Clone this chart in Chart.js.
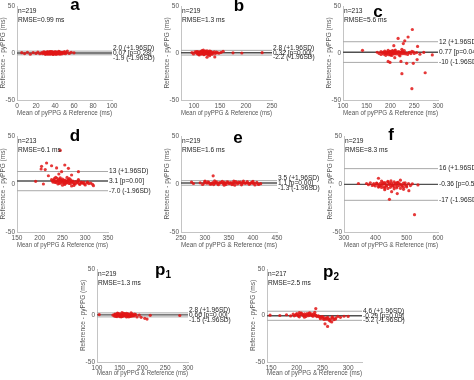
<!DOCTYPE html>
<html>
<head>
<meta charset="utf-8">
<script src="https://cdn.jsdelivr.net/npm/chart.js@4"></script>
<style>
html, body { margin: 0; padding: 0; background: #fff; }
body { position: relative; width: 474px; height: 380px; overflow: hidden; }
canvas { position: absolute; }
</style>
</head>
<body>
<script>
// Bland-Altman panels: Reference - pyPPG vs mean of both
const panelIds = ['a', 'b', 'c', 'd', 'e', 'f', 'p1', 'p2'];
const nVals = [219, 219, 213, 213, 219, 219, 219, 217];
const rmseVals = ['0.99', '1.3', '5.6', '6.1', '1.6', '8.3', '1.3', '2.5'];
const upperLoA = ['2.0', '2.8', '12', '13', '3.5', '16', '2.8', '4.6'];
const meanBias = ['0.07', '0.32', '0.77', '3.1', '1.1', '-0.36', '0.66', '-0.29'];
const pVals = ['0.28', '0.00', '0.04', '0.00', '0.00', '0.52', '0.00', '0.09'];
const lowerLoA = ['-1.9', '-2.2', '-10', '-7.0', '-1.3', '-17', '-1.5', '-5.2'];
const xRanges = [[0, 100], [75, 250], [100, 300], [150, 350], [250, 450], [300, 600], [100, 300], [142, 327]];
const xTicks = [
  [0, 20, 40, 60, 80, 100],
  [100, 150, 200, 250],
  [100, 150, 200, 250, 300],
  [150, 200, 250, 300, 350],
  [250, 300, 350, 400, 450],
  [300, 400, 500, 600],
  [100, 150, 200, 250, 300],
  [150, 200, 250, 300]
];
const yTicks = [-50, 0, 50];

// points (mean, difference)
const aX = [5, 8, 11, 14, 17, 20, 22, 24, 26, 27, 28, 29, 30, 30, 31, 32, 32, 33, 34, 34, 35, 35, 36, 36, 37, 37, 38, 38, 39, 39, 40, 40, 41, 41, 42, 42, 43, 43, 44, 45, 45, 46, 47, 48, 49, 50, 51, 52, 53, 55, 57, 60,
  29, 31, 33, 35, 37, 39, 41, 43, 45, 47, 33, 36, 39, 42, 38, 40, 44, 34, 46, 50];
const aY = [0.3, -0.6, 0.8, -1.2, 0.5, -0.4, 1.0, -0.8, 0.5, -0.8, 1.2, -0.3, 0.8, -1.5, 0.2, 1.4, -0.9, 0.4, -0.2, 1.1, -1.3, 0.6, 0.1, -0.7, 1.6, -0.4, 0.3, -1.1, 0.9, -0.2, 1.3, -0.6, 0.2, -1.4, 0.7, -0.3, 1.0, -0.9, 0.4, -0.5, 1.2, 0.1, -1.0, 0.6, -0.3, 1.5, -0.7, 0.3, 2.0, -0.4, 0.8, 0.2,
  0.9, -0.4, -1.2, 1.4, 0.2, -0.8, 1.1, 0.1, -1.3, 0.7, 0.6, 1.3, -0.6, -0.9, -1.6, 0.5, 1.7, -0.3, -0.2, 0.4];

const bX = [96, 99, 102, 104, 106, 107, 108, 109, 110, 111, 112, 113, 114, 115, 116, 117, 118, 119, 120, 121, 122, 123, 124, 125, 126, 127, 128, 129, 130, 132, 133, 135, 137, 139, 141, 143, 145, 148, 152, 156, 175, 192, 231, 125, 140, 118, 130,
  105, 108, 111, 114, 117, 120, 123, 126, 129, 132, 110, 115, 120, 125, 130, 113, 119, 122, 128, 135];
const bY = [0.5, -1.0, 1.2, 0.3, -0.8, 1.6, 0.2, -1.5, 0.9, -0.4, 1.3, 0.6, -1.1, 2.0, 0.1, -0.6, 1.0, -1.8, 0.4, 1.5, -0.3, 0.8, -0.9, 2.4, 0.2, -1.3, 1.1, 0.5, -0.5, 1.7, -1.0, 0.7, 0.2, 1.3, -0.4, 0.9, 0.3, -0.2, 0.6, 1.8, 0.2, 0.0, 0.3, -4.5, -4.2, 3.0, -2.8,
  1.5, -0.3, 0.5, -0.2, 1.8, -1.2, 0.3, 1.0, -0.7, 0.4, -2.0, 2.3, 1.2, -0.5, 2.1, 0.0, -0.9, 1.9, -1.8, -1.2];

const cX = [246, 216, 237, 230, 227, 207, 224, 257, 141, 288, 199, 222, 234, 248, 256, 224, 273, 245, 195, 209,
  172, 176, 180, 183, 186, 188, 190, 192, 194, 195, 197, 198, 200, 201, 203, 204, 206, 207, 209, 210, 212, 214, 216, 218, 220, 223, 226, 229, 232, 236, 240, 245, 250, 255, 262, 270, 190, 200, 210, 220,
  185, 189, 193, 196, 199, 202, 205, 208, 211, 215, 219, 222, 225, 228, 231, 238, 243, 248, 180, 203];
const cY = [25, 15.5, 17, 13, 10, 7.8, 4, 7, 2.8, -2, -10, -9, -11, -11, -7, -22, -21, -38, -9, -5,
  0.8, -0.5, 1.5, 0.2, -1.2, 2.0, 0.5, -0.8, 1.2, 2.8, -0.3, 0.9, 1.8, -1.5, 0.4, 2.5, -0.6, 1.1, 0.0, 2.2, -1.0, 0.7, 1.5, -2.0, 0.3, 1.0, -0.8, 2.6, 0.2, -1.5, 0.8, 1.8, -0.5, 0.4, -1.2, 0.6, -2.5, -2.2, 3.2, -3.0,
  1.0, -0.2, 0.6, -1.8, 1.4, 0.2, 1.9, -0.9, 0.8, -0.3, 1.3, -0.4, 2.0, 0.5, -0.9, 0.2, -0.6, 1.2, -1.6, -2.6];

const dX = [215, 204, 203, 212, 226, 237, 255, 263, 248, 285, 219, 242, 270, 191, 208, 318, 233, 245,
  226, 229, 232, 234, 236, 238, 240, 242, 244, 246, 248, 250, 252, 254, 256, 258, 260, 262, 264, 266, 268, 270, 273, 276, 279, 282, 285, 288, 291, 294, 297, 300, 304, 308, 312, 316, 235, 245, 255, 265, 275, 285, 240, 250, 260, 270,
  228, 231, 237, 241, 243, 247, 251, 253, 257, 261, 263, 267, 271, 274, 278, 283, 287, 292, 298, 305];
const dY = [21.9, 18.4, 15.6, 15, 19, 16.7, 19.8, 16.3, 12.8, 12.8, 8.6, 10.4, 9.4, 2.8, 0, -1.7, 1.7, 35,
  4.5, 2.0, 5.5, 3.0, 1.5, 6.0, 3.5, 2.2, 4.8, 1.0, 3.8, 5.2, 2.5, 0.8, 4.0, 2.8, 1.5, 3.6, 0.5, 2.4, 4.2, 1.8, 3.0, 0.2, 2.6, 1.2, 3.4, -0.5, 2.0, 0.8, 1.6, -1.0, 1.2, 0.4, 1.0, -0.3, 7.0, 6.5, -0.5, 5.5, -1.5, 4.6, 0.0, -1.2, 6.8, -2.0,
  3.2, 4.0, 2.6, 4.4, 0.6, 2.8, 1.6, 3.8, 0.8, 2.0, 4.6, 0.6, 2.8, 1.4, 0.0, 2.2, 0.4, 1.4, 0.0, 2.0];

const eX = [272, 276, 290, 295, 300, 304, 308, 312, 316, 317, 320, 324, 328, 332, 336, 338, 340, 344, 348, 352, 356, 360, 364, 368, 372, 376, 380, 384, 388, 392, 396, 400, 404, 408, 412, 416, 300, 320, 340, 360, 380, 400, 310, 330, 350, 370, 390,
  298, 306, 314, 322, 326, 334, 342, 346, 354, 358, 366, 374, 378, 386, 394, 398, 402, 410, 318, 362];
const eY = [2.0, 0.5, 1.2, -0.5, 2.5, 0.8, 1.8, -0.2, 1.4, 8.5, 0.6, 2.2, -0.8, 1.0, 2.8, 0.3, 1.6, -0.4, 2.0, 0.9, -0.6, 1.5, 2.6, 0.2, 1.1, -0.9, 1.8, 0.5, 2.4, -0.3, 1.2, 0.7, -1.0, 1.6, -0.5, 0.3, 3.0, 3.2, -1.2, 2.9, 3.0, 2.7, 0.0, 1.4, 0.4, 2.0, 1.0,
  1.0, 2.2, 0.4, 1.6, 0.2, 1.8, 0.6, 2.3, 1.4, 0.1, 1.2, 2.0, 0.6, 1.3, 0.4, 1.9, 0.8, 0.0, -0.6, -1.2];

const fX = [346, 410, 445, 525, 507, 490, 452, 470, 430, 480, 536,
  372, 378, 384, 390, 395, 400, 404, 408, 412, 416, 420, 424, 428, 432, 436, 440, 444, 448, 452, 456, 460, 464, 468, 472, 476, 480, 485, 490, 495, 500, 506, 512, 518, 420, 440, 460, 480, 430, 450, 470,
  395, 405, 415, 425, 435, 445, 455, 465, 475, 485, 495, 410, 430, 450, 470, 490, 460, 440, 420, 500];
const fY = [0.5, 6, -16, -32, -7, -5.5, -8, -10, -6, 4, -1,
  0.5, -0.8, 1.2, -1.5, 0.3, -2.0, 1.0, -0.5, -2.5, 0.8, -1.2, 1.5, -3.0, 0.2, -1.8, 2.0, -0.6, -3.5, 1.0, -1.0, -2.8, 0.6, -4.0, 1.8, -1.5, 0.0, -2.2, 1.0, -0.8, -3.0, 0.5, -1.6, 0.2, 3.0, 2.8, -5.0, -4.5, -4.2, 3.2, 1.5,
  -1.0, 0.6, -1.5, 0.2, -2.2, 0.8, -2.0, -0.6, 0.4, -1.2, 1.2, -3.2, 1.4, -1.4, -2.4, -3.4, 2.2, -4.6, -3.6, -1.8];

const p1X = [105, 135, 138, 140, 142, 144, 146, 148, 150, 152, 154, 156, 158, 160, 162, 164, 166, 168, 170, 172, 174, 176, 178, 180, 182, 185, 188, 193, 197, 205, 210, 217, 282, 145, 155, 165, 175, 150, 160, 170,
  139, 141, 143, 147, 149, 151, 153, 157, 159, 161, 163, 167, 169, 171, 173, 177, 179, 183, 155, 165];
const p1Y = [1.0, 0.5, -0.5, 1.5, 0.2, -1.2, 2.0, 0.8, -0.3, 1.6, 0.4, -1.0, 2.4, 0.6, -0.6, 1.2, 0.0, 1.8, -1.4, 0.9, 0.3, -0.8, 1.4, 0.2, -0.5, 1.0, -1.5, 0.5, -2.0, -3.0, -3.8, 0.2, 0.0, 2.6, 3.0, -1.6, 2.8, -1.2, 1.0, 0.4,
  1.2, -1.0, 0.9, -0.4, 1.7, 0.1, -1.4, 1.1, -0.2, 2.0, 0.7, -0.9, 1.3, 0.1, -1.0, 0.6, -0.3, 1.6, -0.8, 2.2];

const p2X = [148, 167, 180, 188, 193, 197, 200, 203, 206, 209, 212, 215, 218, 221, 224, 227, 230, 233, 236, 239, 242, 245, 248, 251, 254, 257, 260, 263, 266, 269, 272, 276, 280, 285, 292, 237, 260, 255, 268, 205, 215, 225, 235, 300,
  195, 199, 202, 205, 208, 211, 214, 217, 220, 223, 226, 229, 232, 235, 238, 243, 246, 250, 253, 258, 262, 265, 270, 275];
const p2Y = [0.3, 0.0, 0.8, -0.5, 1.5, 0.5, 2.0, -0.6, 1.2, 2.5, 0.2, 1.8, -1.0, 1.0, 2.2, 0.4, -0.3, 1.4, 0.8, -1.2, -0.5, -2.0, -1.5, -3.0, -2.5, -4.0, -2.0, -5.0, -3.5, -1.5, -4.5, -2.8, -1.0, -2.0, -0.8, 7.5, -11.7, -9.0, -7.0, 3.0, -1.8, 2.8, 3.5, -1.0,
  -0.4, 1.0, 0.4, -1.4, 2.4, 1.2, -0.4, 0.8, 2.0, -0.2, 1.1, 1.8, -0.8, 1.0, -0.2, -1.0, -3.5, -1.2, -4.2, -3.0, -3.8, -6.0, -2.5, -4.0];

const seriesX = [aX, bX, cX, dX, eX, fX, p1X, p2X];
const seriesY = [aY, bY, cY, dY, eY, fY, p1Y, p2Y];

// page layout: plot box [left, right, top, bottom] and panel letter [x, baseline]
const boxes = [[17, 112, 6, 100], [181, 272, 6, 100], [343, 438, 6, 100],
  [17, 108, 136, 232], [181, 277, 136, 232], [344, 438, 136, 232],
  [97, 188, 269, 362], [267, 362, 269, 362]];
const letterPos = [[75, 10], [239, 11], [378, 17], [75, 141], [238, 143], [391, 140], [155, 275], [323, 277]];

const FONT = '"Liberation Sans", Arial, sans-serif';
const tickFont = { family: FONT, size: 6.5 };

const textPlugin = {
  id: 'baText',
  afterDatasetsDraw(chart, args, o) {
    const { ctx, chartArea: ca, scales: { y } } = chart;
    ctx.save();
    ctx.fillStyle = '#222';
    ctx.font = '6.6px ' + FONT;
    ctx.textAlign = 'left';
    ctx.textBaseline = 'middle';
    ctx.fillText('n=' + o.n, ca.left + 1, ca.top + 5);
    ctx.fillText('RMSE=' + o.rmse + ' ms', ca.left + 1, ca.top + 14);

    const ym = y.getPixelForValue(parseFloat(o.mean));
    const yu = Math.min(y.getPixelForValue(parseFloat(o.up)), ym - 4.8);
    const yl = Math.max(y.getPixelForValue(parseFloat(o.lo)), ym + 4.8);
    ctx.fillText(o.up + ' (+1.96SD)', ca.right + 1, yu);
    ctx.fillText(o.mean + ' [p=' + o.p + ']', ca.right + 1, ym);
    ctx.fillText(o.lo + ' (-1.96SD)', ca.right + 1, yl);

    // panel letter
    ctx.fillStyle = '#000';
    ctx.textBaseline = 'alphabetic';
    ctx.font = 'bold 17px ' + FONT;
    const lx = o.letter[0] - o.offX, ly = o.letter[1] - o.offY;
    if (o.id.length === 1) {
      ctx.textAlign = 'center';
      ctx.fillText(o.id, lx, ly);
    } else {
      ctx.textAlign = 'left';
      ctx.fillText('p', lx, ly);
      const w = ctx.measureText('p').width;
      ctx.font = 'bold 10px ' + FONT;
      ctx.fillText(o.id.slice(1), lx + w, ly + 3);
    }
    ctx.restore();
  }
};

panelIds.forEach((id, i) => {
  const [L, R, T, B] = boxes[i];
  const padTop = 12, yW = 18, padRight = 62;
  const xH = i >= 6 ? 15 : 17;
  const w = yW + (R - L) + padRight;
  const h = padTop + (B - T) + xH;
  const cv = document.createElement('canvas');
  cv.width = w;
  cv.height = h;
  cv.style.left = (L - yW) + 'px';
  cv.style.top = (T - padTop) + 'px';
  document.body.appendChild(cv);

  const [xmin, xmax] = xRanges[i];
  const hLine = (v, color, width) => ({
    data: [{ x: xmin, y: parseFloat(v) }, { x: xmax, y: parseFloat(v) }],
    showLine: true, borderColor: color, borderWidth: width, pointRadius: 0, order: 2
  });

  new Chart(cv, {
    type: 'scatter',
    data: {
      datasets: [
        {
          data: seriesX[i].map((x, k) => ({ x: x, y: seriesY[i][k] })),
          backgroundColor: 'rgba(226, 22, 22, 0.85)',
          borderWidth: 0,
          pointRadius: 1.6,
          order: 0
        },
        hLine(upperLoA[i], '#a8a8a8', 1),
        hLine(lowerLoA[i], '#a8a8a8', 1),
        hLine(meanBias[i], '#505050', 1.4)
      ]
    },
    options: {
      responsive: false,
      devicePixelRatio: 1,
      animation: false,
      layout: { padding: { top: padTop, right: padRight, left: 0, bottom: 0 } },
      plugins: {
        legend: { display: false },
        tooltip: { enabled: false },
        baText: {
          id: id, n: nVals[i], rmse: rmseVals[i], up: upperLoA[i], mean: meanBias[i],
          p: pVals[i], lo: lowerLoA[i], letter: letterPos[i], offX: L - yW, offY: T - padTop
        }
      },
      scales: {
        x: {
          type: 'linear', min: xmin, max: xmax,
          afterBuildTicks: s => { s.ticks = xTicks[i].map(v => ({ value: v })); },
          afterFit: s => { s.height = xH; },
          grid: { display: false, drawTicks: false },
          border: { display: true, color: '#c4c4c4', width: 1 },
          ticks: { font: tickFont, color: '#555', padding: 2, maxRotation: 0, autoSkip: false },
          title: { display: true, text: 'Mean of pyPPG & Reference (ms)', font: tickFont, color: '#555', padding: 0 }
        },
        y: {
          type: 'linear', min: -50, max: 50,
          afterBuildTicks: s => { s.ticks = yTicks.map(v => ({ value: v })); },
          afterFit: s => { s.width = yW; },
          grid: { display: false, drawTicks: false },
          border: { display: true, color: '#c4c4c4', width: 1 },
          ticks: { font: tickFont, color: '#555', padding: 2 },
          title: { display: true, text: 'Reference - pyPPG (ms)', font: tickFont, color: '#555', padding: 0 }
        }
      }
    },
    plugins: [textPlugin]
  });
});
</script>
</body>
</html>
